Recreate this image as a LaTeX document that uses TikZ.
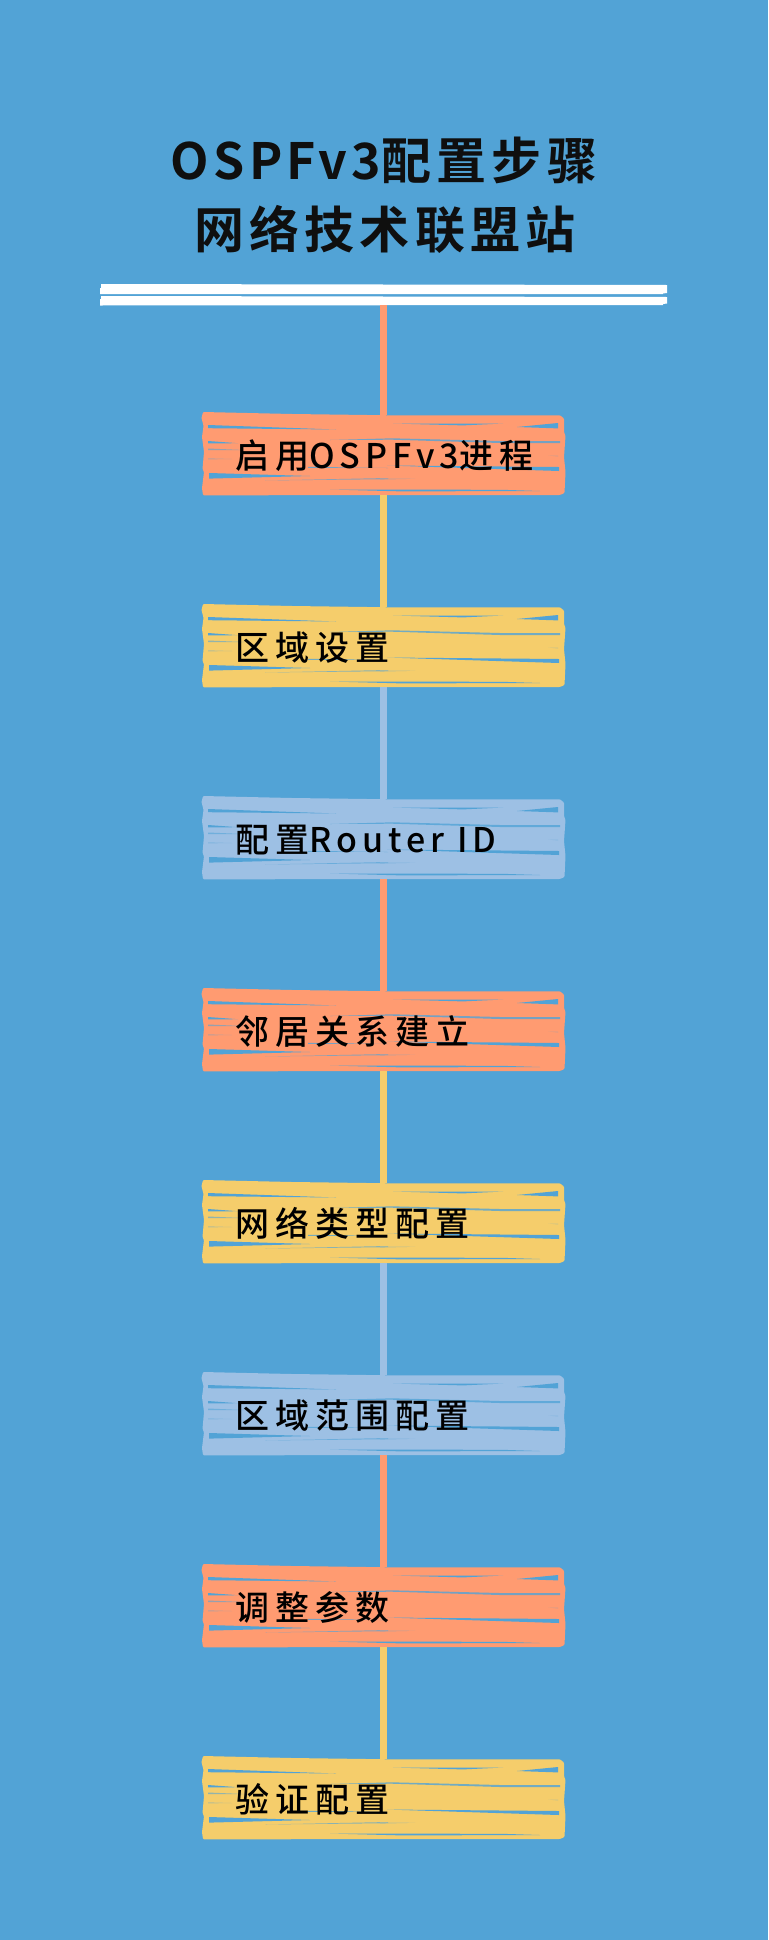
\documentclass[tikz,border=0pt]{standalone}
\usepackage{fontspec}
\setmainfont{Noto Sans CJK SC}
\newfontfamily\titlefont[LetterSpace=10.6,BoldFont={Noto Sans CJK SC Bold}]{Noto Sans CJK SC}
\newfontfamily\stepfont[LetterSpace=17.6]{Noto Sans CJK SC Medium}
\newcommand{\latinrun}[1]{{\addfontfeature{LetterSpace=15}#1}}
\definecolor{skyback}{RGB}{82,163,214}
\definecolor{cardorange}{RGB}{255,155,113}
\definecolor{cardyellow}{RGB}{245,205,107}
\definecolor{cardblue}{RGB}{157,192,228}
\definecolor{inkblack}{RGB}{15,15,15}
\tikzset{
  stepbox/.style={minimum width=360pt, minimum height=80pt, inner sep=0pt, outer sep=0pt},
  steptext/.style={anchor=base west, inner sep=0pt, text=black, font=\stepfont\fontsize{34}{40}\selectfont},
  titletext/.style={anchor=center, inner sep=0pt, text=inkblack, font=\titlefont\bfseries\fontsize{50}{60}\selectfont},
  linkline/.style={line width=7pt}
}
% one card: name, top edge, colour, text
\newcommand{\stepcard}[4]{
  \node (#1) [stepbox] at (383.5,#2+43) {};
  \begin{scope}[shift={(202,#2)}]
    \fill[#3, rounded corners=1pt] (1,0) -- (90,2) -- (188,3.3) -- (358,3.3) -- (362,6.5) -- (362,20) -- (363.5,24) -- (362,45) -- (363.5,60) -- (362.5,81) -- (358,83) -- (1,83.3) -- (0,76) -- (2,60) -- (0.5,57) -- (2,40) -- (0,25) -- (1.5,14) -- (-0.5,6) -- cycle;
    \fill[skyback] (6,13) -- (6,16.2) -- (134,17.5) -- cycle;
    \fill[skyback] (6,29) -- (6,31.4) -- (36,31.2) -- cycle;
    \fill[skyback!60!#3] (6,36.5) -- (6,38.2) -- (42,38) -- cycle;
    \fill[skyback!40!#3] (6,46.3) -- (6,47.4) -- (30,47) -- cycle;
    \fill[skyback] (7,61) -- (7,66.6) -- (108,64) -- cycle;
    \fill[skyback!65!#3] (63,68.5) -- (186,66) -- (186,67.2) -- cycle;
    \fill[skyback] (191,11.5) -- (301,11.5) -- (261,13.4) -- cycle;
    \fill[skyback] (315,15) -- (356,11) -- (356,16.4) -- cycle;
    \fill[skyback!80!#3] (128,28) -- (190,26.3) -- (298,29) -- (358,29) -- (358,31) -- (298,31) -- (190,27.7) -- cycle;
    \fill[skyback!80!#3] (106,54.8) -- (186,56) -- (106,55.8) -- cycle;
    \fill[skyback] (185,53.5) -- (357,55) -- (357,59) -- cycle;
    \fill[skyback!40!#3] (178,66.4) -- (213,66.8) -- (178,67.6) -- cycle;
    \fill[skyback] (128,77.5) -- (300,77.8) -- (338,79) -- (200,79.4) -- cycle;
    \fill[skyback!30!#3] (346,43.5) -- (356,43.5) -- (356,44.5) -- cycle;
  \end{scope}
  \node (#1label) [steptext] at (235,#2+56) {#4};
}
\begin{document}
\begin{tikzpicture}[x=1pt,y=-1pt]
\useasboundingbox (0,0) rectangle (768,1940);
\fill[skyback] (0,0) rectangle (768,1940);

\node (titleA) [titletext] at (384,160) {{\addfontfeature{LetterSpace=8.6}OSPFv3}配置步骤};
\node (titleB) [titletext] at (385,229) {网络技术联盟站};

% double rule under the title
\fill[white] (101,284) -- (667,285) -- (667,293) -- (663,293.5) -- (663,294) -- (100,294) -- (100,288) -- (101,288) -- cycle;
\fill[white] (101,296) -- (667,297) -- (667,303.5) -- (663,304) -- (663,305) -- (100,305.5) -- (100,299) -- (101,299) -- cycle;
\coordinate (rulefoot) at (383.5,305);

\stepcard{enable}{412}{cardorange}{启用\latinrun{OSPFv3}进程}
\stepcard{area}{604}{cardyellow}{区域设置}
\stepcard{routerid}{796}{cardblue}{配置\latinrun{Router ID}}
\stepcard{neighbor}{988}{cardorange}{邻居关系建立}
\stepcard{nettype}{1180}{cardyellow}{网络类型配置}
\stepcard{range}{1372}{cardblue}{区域范围配置}
\stepcard{tune}{1564}{cardorange}{调整参数}
\stepcard{verify}{1756}{cardyellow}{验证配置}

\draw[linkline, cardorange] (rulefoot) -- (enable.north);
\draw[linkline, cardyellow] (enable.south) -- (area.north);
\draw[linkline, cardblue] (area.south) -- (routerid.north);
\draw[linkline, cardorange] (routerid.south) -- (neighbor.north);
\draw[linkline, cardyellow] (neighbor.south) -- (nettype.north);
\draw[linkline, cardblue] (nettype.south) -- (range.north);
\draw[linkline, cardorange] (range.south) -- (tune.north);
\draw[linkline, cardyellow] (tune.south) -- (verify.north);
\end{tikzpicture}
\end{document}
